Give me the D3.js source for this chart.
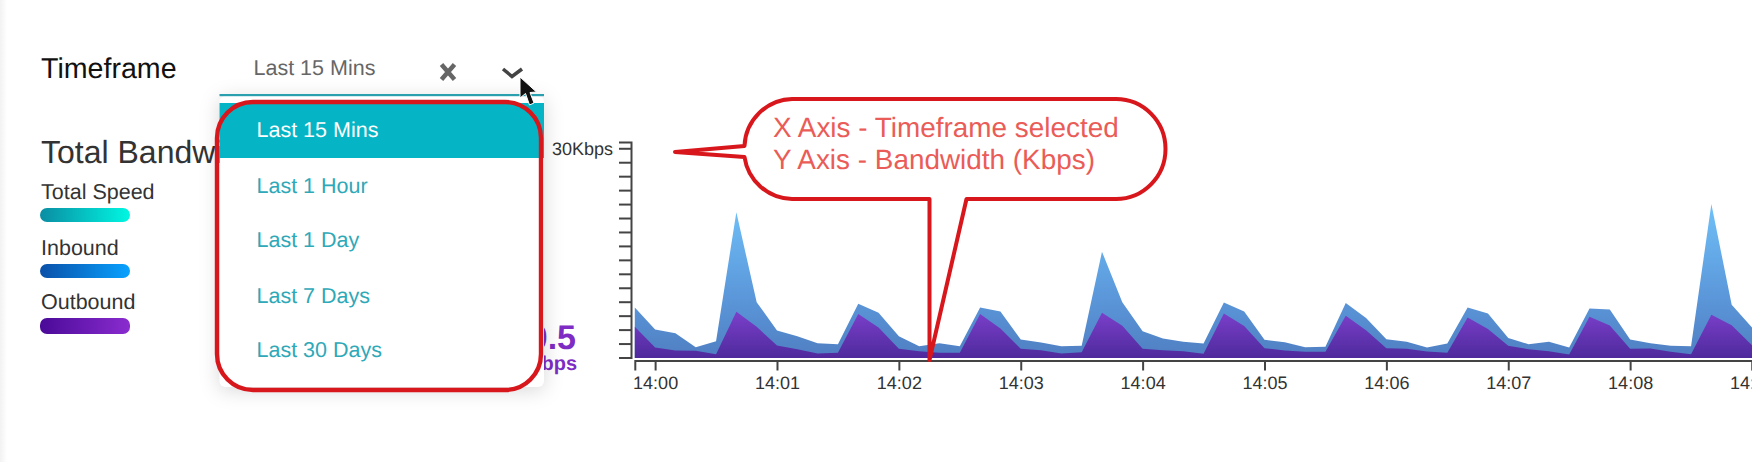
<!DOCTYPE html>
<html>
<head>
<meta charset="utf-8">
<script src="https://cdn.jsdelivr.net/npm/d3@7"></script>
<style>
html, body { margin: 0; padding: 0; background: #fff; overflow: hidden; }
svg { display: block; font-family: "Liberation Sans", Arial, sans-serif; text-rendering: geometricPrecision; }
.y.axis path, .y.axis line, .x.axis path, .x.axis line { stroke: #444; stroke-width: 2; }
.y.axis text { font-size: 18px; fill: #333; font-family: "Liberation Sans"; }
.x.axis text { font-size: 18px; fill: #333; font-family: "Liberation Sans"; }
</style>
</head>
<body>
<svg id="chart" width="1752" height="462"></svg>
<script>
// values, one sample every 10 seconds from 13:59:50
const startTime = new Date(2020, 0, 1, 13, 59, 50);
const totalSpeed = [7.18, 4.02, 3.49, 1.48, 2.34, 20.81, 7.94, 3.88, 3.06, 2.06, 1.91, 7.70, 6.41, 3.06,
    1.63, 2.06, 1.63, 7.18, 6.60, 2.58, 2.15, 1.63, 1.67, 15.17, 7.94, 3.78, 2.73, 2.25, 2.01, 7.89, 6.60,
    2.54, 2.20, 1.48, 1.53, 7.80, 5.65, 2.63, 2.25, 1.44, 2.01, 7.18, 6.32, 2.78, 1.91, 2.25, 1.44, 7.03,
    6.89, 2.58, 2.06, 1.67, 1.63, 22.01, 7.56, 4.30];
const outbound = [4.40, 1.44, 1.00, 0.96, 0.48, 6.56, 4.40, 1.72, 1.20, 0.57, 0.67, 6.22, 4.31, 1.24,
    0.91, 0.67, 0.67, 6.22, 4.16, 1.24, 1.05, 0.57, 0.77, 6.41, 4.55, 1.24, 1.05, 0.91, 0.53, 6.32, 4.50,
    1.34, 1.00, 0.81, 0.81, 5.98, 3.92, 1.34, 1.24, 0.86, 0.67, 5.74, 4.07, 1.67, 1.20, 0.91, 0.43, 5.84,
    4.59, 1.24, 1.29, 0.81, 0.48, 6.12, 4.64, 1.77];
const legendNames = ["Total Speed", "Inbound", "Outbound"];
const legendFrom = ["#0a8da3", "#0a50a8", "#4a0a98"];
const legendTo = ["#00f7e2", "#08a2ff", "#8a2ccf"];
const menuItems = ["Last 15 Mins", "Last 1 Hour", "Last 1 Day", "Last 7 Days", "Last 30 Days"];
const bubbleLines = ["X Axis - Timeframe selected", "Y Axis - Bandwidth (Kbps)"];
const yMax = 30.9;

const width = 1752;
const svg = d3.select("#chart");
const defs = svg.append("defs");

const times = totalSpeed.map((d, i) => d3.timeSecond.offset(startTime, i * 10));

const x = d3.scaleTime()
    .domain([startTime, times[times.length - 1]])
    .range([634.8, width]);
const y = d3.scaleLinear()
    .domain([0, yMax])
    .range([357.5, 142]);

function gradient(id, stops, attrs) {
    const g = defs.append("linearGradient").attr("id", id);
    Object.entries(attrs).forEach(([k, v]) => g.attr(k, v));
    stops.forEach(s => g.append("stop").attr("offset", s[0]).attr("stop-color", s[1]));
}

gradient("blueFill", [[0, "#6fc0f8"], [0.6, "#5b97da"], [1, "#4f7fc2"]],
    { gradientUnits: "userSpaceOnUse", x1: 0, x2: 0, y1: 205, y2: 358 });
gradient("purpleFill", [[0, "#7d40cc"], [1, "#4e2a9c"]],
    { gradientUnits: "userSpaceOnUse", x1: 0, x2: 0, y1: 310, y2: 358 });
gradient("edgeFill", [[0, "#f2f2f2"], [1, "#ffffff"]], { x1: 0, x2: 1, y1: 0, y2: 0 });
legendNames.forEach((d, i) => gradient("legend" + i, [[0, legendFrom[i]], [1, legendTo[i]]], { x1: 0, x2: 1, y1: 0, y2: 0 }));

// page background
svg.append("rect").attr("width", width).attr("height", 462).attr("fill", "#fff");
svg.append("rect").attr("width", 7).attr("height", 462).attr("fill", "url(#edgeFill)");

// left column
svg.append("text").attr("x", 41).attr("y", 78).attr("font-size", 28.6).attr("fill", "#111").text("Timeframe");
svg.append("text").attr("x", 41).attr("y", 163).attr("font-size", 32).attr("fill", "#333").text("Total Bandwidth");

const legendTextY = [199, 255, 309];
const legendBarY = [208, 264, 318];
const legendBarH = [14, 14, 16];
svg.selectAll(".legend-label")
    .data(legendNames)
    .enter().append("text")
    .attr("class", "legend-label")
    .attr("x", 41)
    .attr("y", (d, i) => legendTextY[i])
    .attr("font-size", 21.5)
    .attr("fill", "#333")
    .text(d => d);
svg.selectAll(".legend-bar")
    .data(legendNames)
    .enter().append("rect")
    .attr("class", "legend-bar")
    .attr("x", 40)
    .attr("y", (d, i) => legendBarY[i])
    .attr("width", 90)
    .attr("height", (d, i) => legendBarH[i])
    .attr("rx", 7)
    .attr("fill", (d, i) => `url(#legend${i})`);

// value behind the dropdown
svg.append("text").attr("x", 576).attr("y", 349).attr("text-anchor", "end")
    .attr("font-size", 34).attr("font-weight", "bold").attr("fill", "#7e2cc4").text("0.5");
svg.append("text").attr("x", 577).attr("y", 370).attr("text-anchor", "end")
    .attr("font-size", 20).attr("font-weight", "bold").attr("fill", "#7e2cc4").text("Kbps");

// areas
const area = d3.area()
    .x((d, i) => x(times[i]))
    .y0(358)
    .y1(d => y(d));

svg.append("path").datum(totalSpeed).attr("d", area).attr("fill", "url(#blueFill)");
svg.append("path").datum(outbound).attr("d", area).attr("fill", "url(#purpleFill)");

// axes
const xAxis = d3.axisBottom(x)
    .ticks(d3.timeMinute.every(1))
    .tickFormat(d3.timeFormat("%H:%M"))
    .tickSizeInner(10)
    .tickSizeOuter(10)
    .tickPadding(6);
svg.append("g").attr("class", "x axis").attr("transform", "translate(0,360.5)").call(xAxis);

const yAxis = d3.axisLeft(y)
    .tickValues(d3.range(0, 31, 2))
    .tickFormat(d => d === 30 ? "30Kbps" : "")
    .tickSizeInner(12)
    .tickSizeOuter(12)
    .tickPadding(6);
svg.append("g").attr("class", "y axis").attr("transform", "translate(631,0)").call(yAxis);

// callout bubble
const bubble = "M744.5,146 A49,49 0 0 1 792,99 L1116,99 A49.5,50 0 0 1 1116,199 L966.5,199 L929.5,360 L929.5,199" +
    " L792,199 A49,49 0 0 1 744.5,157 L675,152 Z";
svg.append("path")
    .attr("d", bubble)
    .attr("fill", "#fff")
    .attr("stroke", "#d8171c")
    .attr("stroke-width", 4)
    .attr("stroke-linejoin", "round");
svg.selectAll(".bubble-line")
    .data(bubbleLines)
    .enter().append("text")
    .attr("class", "bubble-line")
    .attr("x", 773)
    .attr("y", (d, i) => 137.3 + i * 32)
    .attr("font-size", 27.9)
    .attr("fill", "#ea5c57")
    .text(d => d);

// select box
svg.append("text").attr("x", 253.5).attr("y", 75).attr("font-size", 21.5).attr("fill", "#666").text(menuItems[0]);
svg.append("path").attr("d", "M441.5,64.5 L454.5,79.5 M454.5,64.5 L441.5,79.5")
    .attr("stroke", "#666").attr("stroke-width", 4.5).attr("fill", "none");
svg.append("path").attr("d", "M503,69 L512,76.5 L522,69")
    .attr("stroke", "#444").attr("stroke-width", 3.5).attr("fill", "none");

// dropdown
svg.append("rect")
    .attr("x", 219.5).attr("y", 96).attr("width", 324.5).attr("height", 291).attr("rx", 6)
    .attr("fill", "#fff")
    .style("filter", "drop-shadow(0 3px 10px rgba(0,0,0,0.16))");
svg.append("rect").attr("x", 219.5).attr("y", 94).attr("width", 324.5).attr("height", 2.2).attr("fill", "#2a9fae");
svg.append("rect").attr("x", 219.5).attr("y", 103).attr("width", 324.5).attr("height", 55).attr("fill", "#06b5c5");

const menuY = [137, 193, 247, 303, 357];
svg.selectAll(".menu-item")
    .data(menuItems)
    .enter().append("text")
    .attr("class", "menu-item")
    .attr("x", 256.5)
    .attr("y", (d, i) => menuY[i])
    .attr("font-size", 21.5)
    .attr("fill", (d, i) => i === 0 ? "#fff" : "#2fa8b8")
    .text(d => d);

// red highlight round the menu
svg.append("rect")
    .attr("x", 217).attr("y", 102).attr("width", 324).attr("height", 288).attr("rx", 36)
    .attr("fill", "none")
    .attr("stroke", "#d8171c")
    .attr("stroke-width", 4.4);

// mouse pointer
svg.append("path")
    .attr("d", "M520,77 L520,98 L525.5,93.5 L529.5,105 L534,103 L530,92.5 L536.5,92 Z")
    .attr("fill", "#111")
    .attr("stroke", "#fff")
    .attr("stroke-width", 1);
</script>
</body>
</html>
